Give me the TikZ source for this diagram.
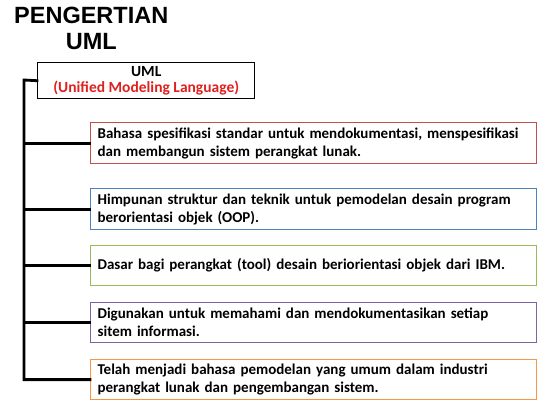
\documentclass[tikz,border=0pt]{standalone}
\usepackage{fontspec}
\setmainfont{Carlito}
\newfontfamily\titlefont{Liberation Sans}
\usepackage{xcolor}
\usetikzlibrary{positioning}

\definecolor{boxred}{HTML}{C0504D}
\definecolor{boxblue}{HTML}{4F81BD}
\definecolor{boxgreen}{HTML}{9BBB59}
\definecolor{boxpurple}{HTML}{8064A2}
\definecolor{boxorange}{HTML}{F79646}
\definecolor{umlred}{HTML}{E0201E}

\begin{document}
\begin{tikzpicture}[
    x=1pt, y=-1pt,
    desc/.style={rectangle, draw, line width=1.2pt, fill=white, anchor=north west,
        minimum width=446pt, minimum height=41pt, text width=432pt, align=left,
        inner xsep=7pt, font=\fontsize{15}{18}\selectfont\bfseries},
    tree/.style={line width=2.8pt, line cap=rect}
]
    \useasboundingbox (0,0) rectangle (560,420);

    \node[anchor=north west, inner sep=0pt, align=center,
          font=\titlefont\fontsize{23.5}{26}\selectfont\bfseries] (title) at (14,7) {PENGERTIAN\\UML};

    \node[rectangle, draw, line width=1.4pt, anchor=north west, minimum width=217pt, minimum height=36pt,
          align=center, inner sep=1pt, font=\fontsize{15.5}{16.5}\selectfont\bfseries] (uml) at (37,62)
          {UML\\\textcolor{umlred}{(Unified Modeling Language)}};

    \node[desc, draw=boxred] (d1) at (90,122) {Bahasa spesifikasi standar untuk mendokumentasi, menspesifikasi\\dan membangun sistem perangkat lunak.};
    \node[desc, draw=boxblue] (d2) at (90,188) {Himpunan struktur dan teknik untuk pemodelan desain program\\berorientasi objek (OOP).};
    \node[desc, draw=boxgreen, minimum height=40pt] (d3) at (90,245) {Dasar bagi perangkat (tool) desain beriorientasi objek dari IBM.};
    \node[desc, draw=boxpurple, minimum height=40pt] (d4) at (90,302) {Digunakan untuk memahami dan mendokumentasikan setiap\\sitem informasi.};
    \node[desc, draw=boxorange, minimum height=40pt] (d5) at (90,359) {Telah menjadi bahasa pemodelan yang umum dalam industri\\perangkat lunak dan pengembangan sistem.};

    \coordinate (trunk) at (24,80);
    \draw[tree] (uml.west) -- (trunk) |- (d5.west);
    \foreach \i in {1,...,4}
        \draw[tree] (trunk |- d\i.west) -- (d\i.west);
\end{tikzpicture}
\end{document}
